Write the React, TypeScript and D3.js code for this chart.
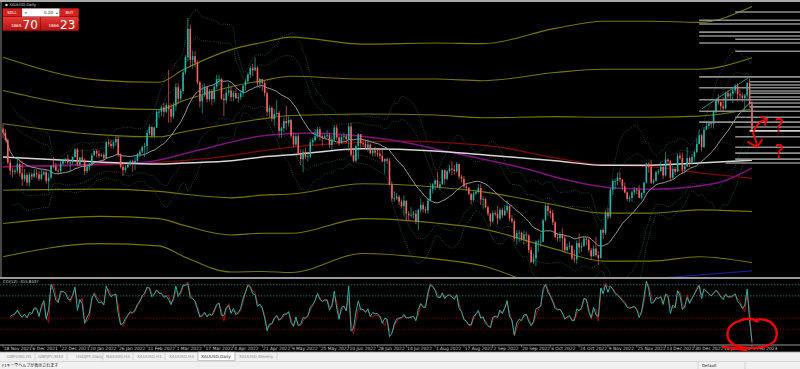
import React from "react"
import * as d3 from "d3"

// XAUUSD daily bars, 18 Nov 2021 .. 3 Feb 2023 (open = previous close)
const firstOpen = 1867
const closes = [
    1860, 1846, 1805, 1790, 1788, 1790, 1802, 1785, 1774,
    1782, 1768, 1783, 1779, 1785, 1783, 1775, 1783, 1787, 1771, 1777, 1799, 1798, 1790, 1789, 1803, 1808, 1811, 1805, 1805, 1815, 1829,
    1801, 1814, 1810, 1789, 1797, 1801, 1818, 1826, 1821, 1817, 1819, 1813, 1842, 1839, 1835, 1842, 1848, 1819, 1797, 1791, 1796,
    1801, 1807, 1804, 1808, 1820, 1825, 1833, 1835, 1859, 1870, 1854, 1869, 1898, 1898, 1906, 1898, 1910, 1903, 1889, 1909,
    1943, 1922, 1936, 1970, 1998, 2050, 1993, 2000, 1988, 1952, 1917, 1928, 1943, 1921, 1936, 1921, 1944, 1958, 1958, 1922, 1919, 1933, 1937,
    1925, 1932, 1923, 1925, 1932, 1946, 1954, 1966, 1978, 1974, 1979, 1950, 1958, 1951, 1932, 1898, 1905, 1885, 1894, 1896,
    1863, 1868, 1881, 1877, 1883, 1854, 1838, 1853, 1821, 1811, 1824, 1815, 1816, 1842, 1846, 1853, 1866, 1853, 1850, 1853, 1855, 1837,
    1847, 1869, 1851, 1841, 1852, 1853, 1848, 1871, 1819, 1808, 1835, 1857, 1840, 1839, 1832, 1838, 1822, 1827, 1823, 1821, 1817, 1807,
    1811, 1808, 1764, 1739, 1740, 1742, 1733, 1725, 1735, 1711, 1708, 1709, 1711, 1696, 1718, 1727, 1719, 1717, 1735, 1756, 1765,
    1772, 1760, 1765, 1791, 1775, 1789, 1794, 1792, 1789, 1802, 1779, 1775, 1761, 1758, 1747, 1736, 1748, 1751, 1758, 1737, 1738, 1723, 1711,
    1697, 1712, 1710, 1702, 1718, 1708, 1717, 1725, 1702, 1697, 1665, 1675, 1676, 1664, 1673, 1671, 1644, 1622, 1629, 1660, 1660, 1660,
    1699, 1725, 1716, 1712, 1695, 1668, 1666, 1673, 1666, 1644, 1650, 1652, 1629, 1627, 1657, 1649, 1652, 1665, 1663, 1644, 1633,
    1647, 1635, 1630, 1681, 1676, 1713, 1706, 1755, 1771, 1771, 1777, 1774, 1761, 1750, 1738, 1740, 1750, 1755, 1754, 1740, 1749, 1768,
    1803, 1797, 1768, 1771, 1787, 1789, 1797, 1781, 1810, 1807, 1777, 1793, 1788, 1817, 1813, 1792, 1798, 1813, 1805, 1815, 1824,
    1839, 1855, 1833, 1865, 1872, 1877, 1876, 1897, 1920, 1916, 1908, 1904, 1932, 1926, 1931, 1937, 1946, 1930, 1928, 1923, 1928,
    1951, 1912, 1865,
]
const highs = [
    1877, 1866, 1849, 1811, 1795, 1794, 1816, 1810, 1808,
    1793, 1786, 1787, 1787, 1793, 1793, 1789, 1792, 1792, 1792, 1785, 1800, 1815, 1804, 1794, 1808, 1812, 1813, 1820, 1810, 1816, 1831,
    1831, 1815, 1829, 1812, 1800, 1804, 1822, 1828, 1829, 1828, 1822, 1823, 1844, 1848, 1847, 1845, 1853, 1853, 1822, 1801, 1800,
    1806, 1810, 1810, 1815, 1822, 1829, 1836, 1841, 1865, 1875, 1871, 1871, 1902, 1902, 1909, 1914, 1914, 1974, 1913, 1915,
    1950, 1950, 1940, 1974, 2002, 2070, 2058, 2010, 2009, 1992, 1955, 1948, 1950, 1945, 1940, 1940, 1948, 1966, 1966, 1960, 1931, 1940, 1950,
    1945, 1937, 1940, 1933, 1937, 1948, 1958, 1970, 1982, 1986, 1998, 1981, 1960, 1958, 1955, 1935, 1910, 1908, 1903, 1920,
    1899, 1871, 1887, 1909, 1890, 1885, 1860, 1858, 1857, 1829, 1829, 1832, 1822, 1848, 1850, 1866, 1870, 1870, 1857, 1858, 1864, 1859,
    1855, 1874, 1874, 1855, 1856, 1860, 1857, 1876, 1878, 1832, 1838, 1858, 1857, 1846, 1847, 1847, 1840, 1832, 1834, 1831, 1828, 1829,
    1813, 1814, 1813, 1770, 1752, 1749, 1745, 1737, 1745, 1735, 1716, 1723, 1716, 1718, 1720, 1739, 1732, 1724, 1739, 1767, 1767,
    1774, 1788, 1770, 1792, 1792, 1791, 1800, 1807, 1800, 1806, 1803, 1782, 1780, 1767, 1760, 1749, 1752, 1754, 1765, 1765, 1743, 1740, 1725,
    1712, 1717, 1717, 1725, 1722, 1722, 1727, 1735, 1728, 1708, 1700, 1680, 1681, 1678, 1680, 1678, 1673, 1650, 1638, 1662, 1664, 1675,
    1702, 1729, 1730, 1721, 1718, 1697, 1675, 1678, 1684, 1672, 1656, 1660, 1654, 1645, 1662, 1675, 1658, 1670, 1668, 1667, 1648,
    1653, 1669, 1642, 1682, 1684, 1717, 1722, 1758, 1774, 1775, 1786, 1787, 1774, 1768, 1752, 1744, 1754, 1760, 1758, 1764, 1750, 1769,
    1805, 1805, 1810, 1775, 1790, 1793, 1807, 1799, 1825, 1813, 1810, 1799, 1797, 1822, 1823, 1823, 1801, 1833, 1816, 1820, 1826,
    1850, 1865, 1858, 1870, 1881, 1878, 1880, 1901, 1922, 1930, 1918, 1925, 1935, 1937, 1935, 1942, 1949, 1950, 1939, 1933, 1931,
    1952, 1959, 1918,
]
const lows = [
    1850, 1843, 1802, 1782, 1778, 1783, 1785, 1779, 1762,
    1770, 1762, 1761, 1773, 1777, 1776, 1771, 1772, 1781, 1766, 1753, 1775, 1794, 1789, 1783, 1785, 1800, 1804, 1802, 1789, 1801, 1813,
    1798, 1798, 1807, 1782, 1785, 1790, 1799, 1817, 1814, 1812, 1815, 1805, 1811, 1834, 1831, 1830, 1836, 1815, 1794, 1780, 1786,
    1795, 1798, 1788, 1791, 1806, 1815, 1822, 1815, 1822, 1855, 1850, 1849, 1868, 1886, 1890, 1888, 1895, 1878, 1878, 1885,
    1900, 1912, 1918, 1931, 1966, 1990, 1980, 1977, 1980, 1948, 1906, 1895, 1925, 1915, 1917, 1910, 1915, 1940, 1946, 1920, 1890, 1913, 1927,
    1917, 1917, 1921, 1915, 1920, 1925, 1937, 1950, 1960, 1963, 1972, 1945, 1941, 1936, 1926, 1890, 1888, 1880, 1872, 1890,
    1850, 1850, 1860, 1865, 1871, 1850, 1832, 1835, 1818, 1800, 1787, 1811, 1807, 1813, 1835, 1843, 1850, 1845, 1836, 1848, 1850, 1831,
    1828, 1843, 1846, 1836, 1840, 1845, 1840, 1825, 1816, 1805, 1805, 1811, 1832, 1833, 1829, 1825, 1820, 1816, 1816, 1815, 1811, 1805,
    1784, 1802, 1763, 1733, 1733, 1736, 1728, 1722, 1707, 1697, 1698, 1704, 1702, 1692, 1681, 1713, 1713, 1712, 1711, 1733, 1748,
    1754, 1759, 1754, 1764, 1764, 1772, 1785, 1781, 1783, 1786, 1774, 1768, 1758, 1753, 1745, 1728, 1733, 1745, 1747, 1727, 1720, 1721, 1707,
    1688, 1694, 1706, 1691, 1698, 1703, 1707, 1712, 1697, 1694, 1660, 1654, 1659, 1661, 1654, 1658, 1639, 1621, 1619, 1615, 1641, 1651,
    1659, 1697, 1707, 1703, 1690, 1666, 1660, 1660, 1642, 1640, 1641, 1645, 1626, 1621, 1618, 1638, 1641, 1650, 1653, 1640, 1627,
    1633, 1632, 1617, 1628, 1665, 1672, 1701, 1702, 1745, 1755, 1763, 1768, 1754, 1748, 1734, 1732, 1733, 1745, 1747, 1739, 1737, 1745,
    1766, 1786, 1765, 1765, 1770, 1783, 1788, 1775, 1779, 1799, 1773, 1775, 1782, 1787, 1810, 1785, 1787, 1797, 1797, 1802, 1807,
    1822, 1838, 1825, 1832, 1865, 1867, 1868, 1867, 1895, 1911, 1900, 1897, 1902, 1922, 1918, 1914, 1932, 1917, 1920, 1916, 1900,
    1919, 1906, 1861,
]

// one label every 12 bars
const dateLabels = [
    "18 Nov 2021", "6 Dec 2021", "22 Dec 2021", "10 Jan 2022", "26 Jan 2022", "11 Feb 2022", "1 Mar 2022",
    "17 Mar 2022", "4 Apr 2022", "21 Apr 2022", "9 May 2022", "25 May 2022", "10 Jun 2022", "28 Jun 2022",
    "14 Jul 2022", "1 Aug 2022", "17 Aug 2022", "2 Sep 2022", "20 Sep 2022", "6 Oct 2022", "24 Oct 2022",
    "9 Nov 2022", "25 Nov 2022", "13 Dec 2022", "30 Dec 2022", "18 Jan 2023", "3 Feb 2023",
]

// long period lines (bar index -> price)
const longIdx = [0, 40, 65, 75, 95, 108, 120, 150, 180, 200, 230, 250, 270, 290, 312]
const ma200 = [1815, 1806, 1802, 1804, 1808, 1815, 1819, 1830, 1826, 1819, 1808, 1800, 1800, 1804, 1809]
const sd200 = [61, 50, 50, 57, 68, 70, 72, 64, 66, 68, 81, 88, 88, 86, 94]
const purpleIdx = [0, 40, 60, 80, 110, 130, 145, 165, 186, 220, 232, 255, 270, 297, 312]
const purpleMa = [1797, 1802, 1806, 1826, 1855, 1859, 1855, 1844, 1824, 1791, 1776, 1758, 1756, 1767, 1795]
const redIdx = [0, 40, 82, 124, 145, 165, 186, 207, 228, 246, 270, 290, 312]
const redMa = [1797, 1800, 1811, 1835, 1841, 1844, 1841, 1833, 1815, 1802, 1797, 1786, 1776]
const blueIdx = [250, 280, 312]
const blueMa = [1585, 1595, 1606]

// horizontal price lines on the right
const levelPrices = [2081, 2066, 2059, 2044, 2037, 2031, 2024, 2009, 1962, 1953, 1947, 1942, 1936, 1932, 1925, 1920,
    1914, 1907, 1899, 1888, 1879, 1870, 1863, 1852, 1833, 1822, 1811, 1804]
const levelFrom = [305, 290, 290, 290, 290, 305, 290, 305, 290, 311, 311, 290, 311, 311, 311, 290,
    311, 311, 290, 305, 290, 305, 311, 305, 305, 305, 305, 301]
const trendIdx = [291, 311]
const trendPrice = [1903, 1962]

const tabs = ["GBPUSD,H1", "GBPJPY,M30", "USDJPY,Daily", "NAS100,H4", "XAUUSD,H1", "XAUUSD,H4", "XAUUSD,Daily", "XAUUSD,Weekly"]
const tabX = [7, 38, 76, 106, 137, 169, 201, 239]
const tabDiv = [35, 67, 103, 133, 165, 198, 235, 277]

const UI = "Tahoma, 'DejaVu Sans', 'Liberation Sans', sans-serif"
const BULL = "#22b3a5"
const BEAR = "#f1635f"

const App = () => {
    const n = closes.length
    const x = d3.scaleLinear().domain([0, n - 1]).range([3, 752])
    const y = d3.scaleLinear().domain([1615, 2070]).range([266, 18])
    const yc = d3.scaleLinear().domain([-200, 200]).range([329.2, 284.8])

    const opens = closes.map((c, i) => (i === 0 ? firstOpen : closes[i - 1]))

    const win = (arr: number[], i: number, p: number) => arr.slice(Math.max(0, i - p + 1), i + 1)
    const sma20 = closes.map((_, i) => d3.mean(win(closes, i, 20)) as number)
    const bb = closes.map((_, i) => {
        const w = win(closes, i, 20)
        const m = d3.mean(w) as number
        return {m, sd: Math.sqrt(d3.mean(w, v => (v - m) ** 2) as number)}
    })
    const cci = (src: number[], p: number) => src.map((v, i) => {
        if (i < 3) return null
        const w = win(src, i, p)
        const m = d3.mean(w) as number
        const md = d3.mean(w, d => Math.abs(d - m)) as number
        return md ? (v - m) / (0.015 * md) : 0
    })
    const typical = closes.map((c, i) => (highs[i] + lows[i] + c) / 3)
    const cciClose = cci(closes, 12)
    const cciTyp = cci(typical, 12)

    const sparse = (idx: number[], vals: number[]) =>
        d3.line<number>().x((_, i) => x(idx[i])).y(v => y(v)).curve(d3.curveMonotoneX)(vals) || ""
    const daily = (vals: number[], from = 0) =>
        d3.line<number>().defined((_, i) => i >= from).x((_, i) => x(i)).y(v => y(v))(vals) || ""
    const cciLine = d3.line<number | null>().defined(v => v != null).x((_, i) => x(i)).y(v => yc(v as number))

    const envelopes = [3, 2, 1, -1, -2, -3].map(k => sparse(longIdx, ma200.map((m, i) => m + k * sd200[i])))
    const bands = [2, -2, 3, -3].map(k => daily(bb.map(b => b.m + k * b.sd), 4))

    return (
        <svg width={800} height={369} style={{position: "fixed", left: 0, top: 0}} fontFamily={UI}>
            <defs>
                <clipPath id="main"><rect x={0} y={3} width={800} height={274}/></clipPath>
                <clipPath id="sub"><rect x={0} y={279} width={800} height={65}/></clipPath>
                <linearGradient id="btn" x1="0" y1="0" x2="0" y2="1">
                    <stop offset="0" stopColor="#e63a36"/>
                    <stop offset="1" stopColor="#b3110f"/>
                </linearGradient>
            </defs>
            <rect width={800} height={369} fill="#000"/>
            <line x1={0} x2={800} y1={1} y2={1} stroke="#a8a8a8" strokeWidth={2}/>
            <line x1={1} x2={1} y1={2} y2={277} stroke="#8a8a8a" strokeWidth={1}/>

            <g clipPath="url(#main)" fill="none">
                {envelopes.map((d, i) => <path key={i} d={d} stroke="#767600" strokeWidth={1.1}/>)}
                {bands.map((d, i) => <path key={i} d={d} stroke="#24584f" strokeWidth={0.8} strokeDasharray="1 1.2"/>)}
                <path d={sparse(blueIdx, blueMa)} stroke="#1a1a90" strokeWidth={1.2}/>
                <path d={sparse(redIdx, redMa)} stroke="#800808" strokeWidth={1.3}/>
                <path d={sparse(purpleIdx, purpleMa)} stroke="#7d127f" strokeWidth={1.5}/>
                <path d={sparse(longIdx, ma200)} stroke="#d6d6d6" strokeWidth={1.5}/>
                <path d={daily(sma20)} stroke="#a8a8a8" strokeWidth={0.9}/>

                {closes.map((c, i) => {
                    const o = opens[i]
                    const col = c >= o ? BULL : BEAR
                    const top = y(Math.max(o, c))
                    const h = Math.max(0.8, y(Math.min(o, c)) - top)
                    return (
                        <g key={i}>
                            <line x1={x(i)} x2={x(i)} y1={y(highs[i])} y2={y(lows[i])} stroke={col} strokeWidth={0.8} opacity={0.85}/>
                            <rect x={x(i) - 0.8} y={top} width={1.6} height={h} fill={col}/>
                        </g>
                    )
                })}

                {levelPrices.map((p, i) => (
                    <line key={i} x1={x(levelFrom[i])} x2={800} y1={y(p)} y2={y(p)}
                          stroke={p === 1863 ? "#d0d0d0" : "#8e8e8e"} strokeWidth={1.6}/>
                ))}
                <line x1={x(trendIdx[0])} x2={x(trendIdx[1])} y1={y(trendPrice[0])} y2={y(trendPrice[1])}
                      stroke="#2a9d8f" strokeWidth={0.9}/>
            </g>

            {/* hand drawn notes */}
            <g fill="none" stroke="#f00" strokeWidth={1.8} strokeLinecap="round" strokeLinejoin="round">
                <path d="M754,131 Q757,122 767,119"/>
                <path d="M761,117 L767,119 L765,125"/>
                <path d="M753,133 Q756,139 757,146"/>
                <path d="M748,142 L757,147 L762,140"/>
            </g>
            <text x={774} y={132} fill="#f00" fontSize={19} fontFamily="'DejaVu Sans', sans-serif">?</text>
            <text x={774} y={158} fill="#f00" fontSize={19} fontFamily="'DejaVu Sans', sans-serif">?</text>

            {/* trade panel */}
            <text x={5} y={5.5} fontSize={3.8} fill="#d8d8d8">◆ XAUUSD,Daily</text>
            <rect x={2.5} y={8} width={76.5} height={23} fill="#6d0000"/>
            <rect x={3} y={8.5} width={18.5} height={8} fill="#d3211f"/>
            <rect x={22} y={8.5} width={37.5} height={8} fill="#fff" stroke="#9a9a9a" strokeWidth={0.4}/>
            <rect x={60} y={8.5} width={18.5} height={8} fill="#d3211f"/>
            <text x={12} y={14} fontSize={4} fill="#fff" textAnchor="middle">SELL</text>
            <text x={69.5} y={14} fontSize={4} fill="#fff" textAnchor="middle">BUY</text>
            <text x={25} y={14} fontSize={3.5} fill="#333">▾</text>
            <text x={53} y={14.3} fontSize={4} fill="#222" textAnchor="end">0.20</text>
            <text x={56} y={14} fontSize={3.5} fill="#333">▴</text>
            <rect x={3} y={17} width={37.5} height={13.5} fill="url(#btn)"/>
            <rect x={41} y={17} width={37.5} height={13.5} fill="url(#btn)"/>
            <text x={11} y={27.3} fontSize={4} fill="#fff">1865.</text>
            <text x={22.5} y={28.7} fontSize={12} fill="#fff">70</text>
            <text x={48.5} y={27.3} fontSize={4} fill="#fff">1866.</text>
            <text x={60} y={28.7} fontSize={12} fill="#fff">23</text>

            {/* CCI window */}
            <line x1={0} x2={800} y1={278} y2={278} stroke="#9a9a9a" strokeWidth={2}/>
            <text x={3} y={282.5} fontSize={3.9} fill="#d8d8d8">CCI(12) -315.8437</text>
            {[200, 100].map(v => (
                <line key={v} x1={0} x2={800} y1={yc(v)} y2={yc(v)} stroke="#2e8080" strokeWidth={0.8} strokeDasharray="1.5 1.5"/>
            ))}
            {[-100, -200].map(v => (
                <line key={v} x1={0} x2={800} y1={yc(v)} y2={yc(v)} stroke="#8a0000" strokeWidth={0.8} strokeDasharray="1.5 1.5"/>
            ))}
            <g clipPath="url(#sub)" fill="none">
                <path d={cciLine(cciTyp) || ""} stroke="#b00c0c" strokeWidth={1}/>
                <path d={cciLine(cciClose) || ""} stroke="#27b2a6" strokeWidth={1}/>
            </g>

            {/* time axis */}
            <line x1={0} x2={800} y1={345} y2={345} stroke="#9a9a9a" strokeWidth={1}/>
            {dateLabels.map((t, i) => (
                <g key={t}>
                    <line x1={x(i * 12)} x2={x(i * 12)} y1={345} y2={347.5} stroke="#9a9a9a" strokeWidth={0.6}/>
                    <text x={x(i * 12) + 0.8} y={350} fontSize={4.4} fill="#cfcfcf">{t}</text>
                </g>
            ))}

            <path d="M756,320 C771,317 779,328 776,338 C773,348 749,351 735,345 C723,339 726,325 739,321 C746,318 753,318 758,322"
                  fill="none" stroke="#f00" strokeWidth={2.3}/>
            <path d="M723,347 L736,348.5 L746,350" fill="none" stroke="#f00" strokeWidth={2.6} strokeLinecap="round"/>

            {/* tabs and status bar */}
            <rect x={0} y={352} width={800} height={17} fill="#f0f0f0"/>
            <line x1={0} x2={800} y1={352} y2={352} stroke="#a0a0a0" strokeWidth={0.8}/>
            <rect x={198} y={352} width={37} height={8.5} fill="#fff" stroke="#a8a8a8" strokeWidth={0.6}/>
            {tabDiv.map(d => <line key={d} x1={d} x2={d} y1={353} y2={360.5} stroke="#c4c4c4" strokeWidth={0.6}/>)}
            {tabs.map((t, i) => (
                <text key={t} x={tabX[i]} y={358} fontSize={4.2} fill={i === 6 ? "#222" : "#909090"}>{t}</text>
            ))}
            <line x1={0} x2={800} y1={361.5} y2={361.5} stroke="#c8c8c8" strokeWidth={0.6}/>
            <text x={2} y={367.3} fontSize={4} fill="#222" fontFamily="'Noto Sans CJK JP', sans-serif">F1キーでヘルプが表示されます</text>
            <line x1={698} x2={698} y1={362} y2={369} stroke="#c0c0c0" strokeWidth={0.6}/>
            <line x1={745} x2={745} y1={362} y2={369} stroke="#c0c0c0" strokeWidth={0.6}/>
            <text x={702} y={367.3} fontSize={4} fill="#222">Default</text>
        </svg>
    )
}

export default App
